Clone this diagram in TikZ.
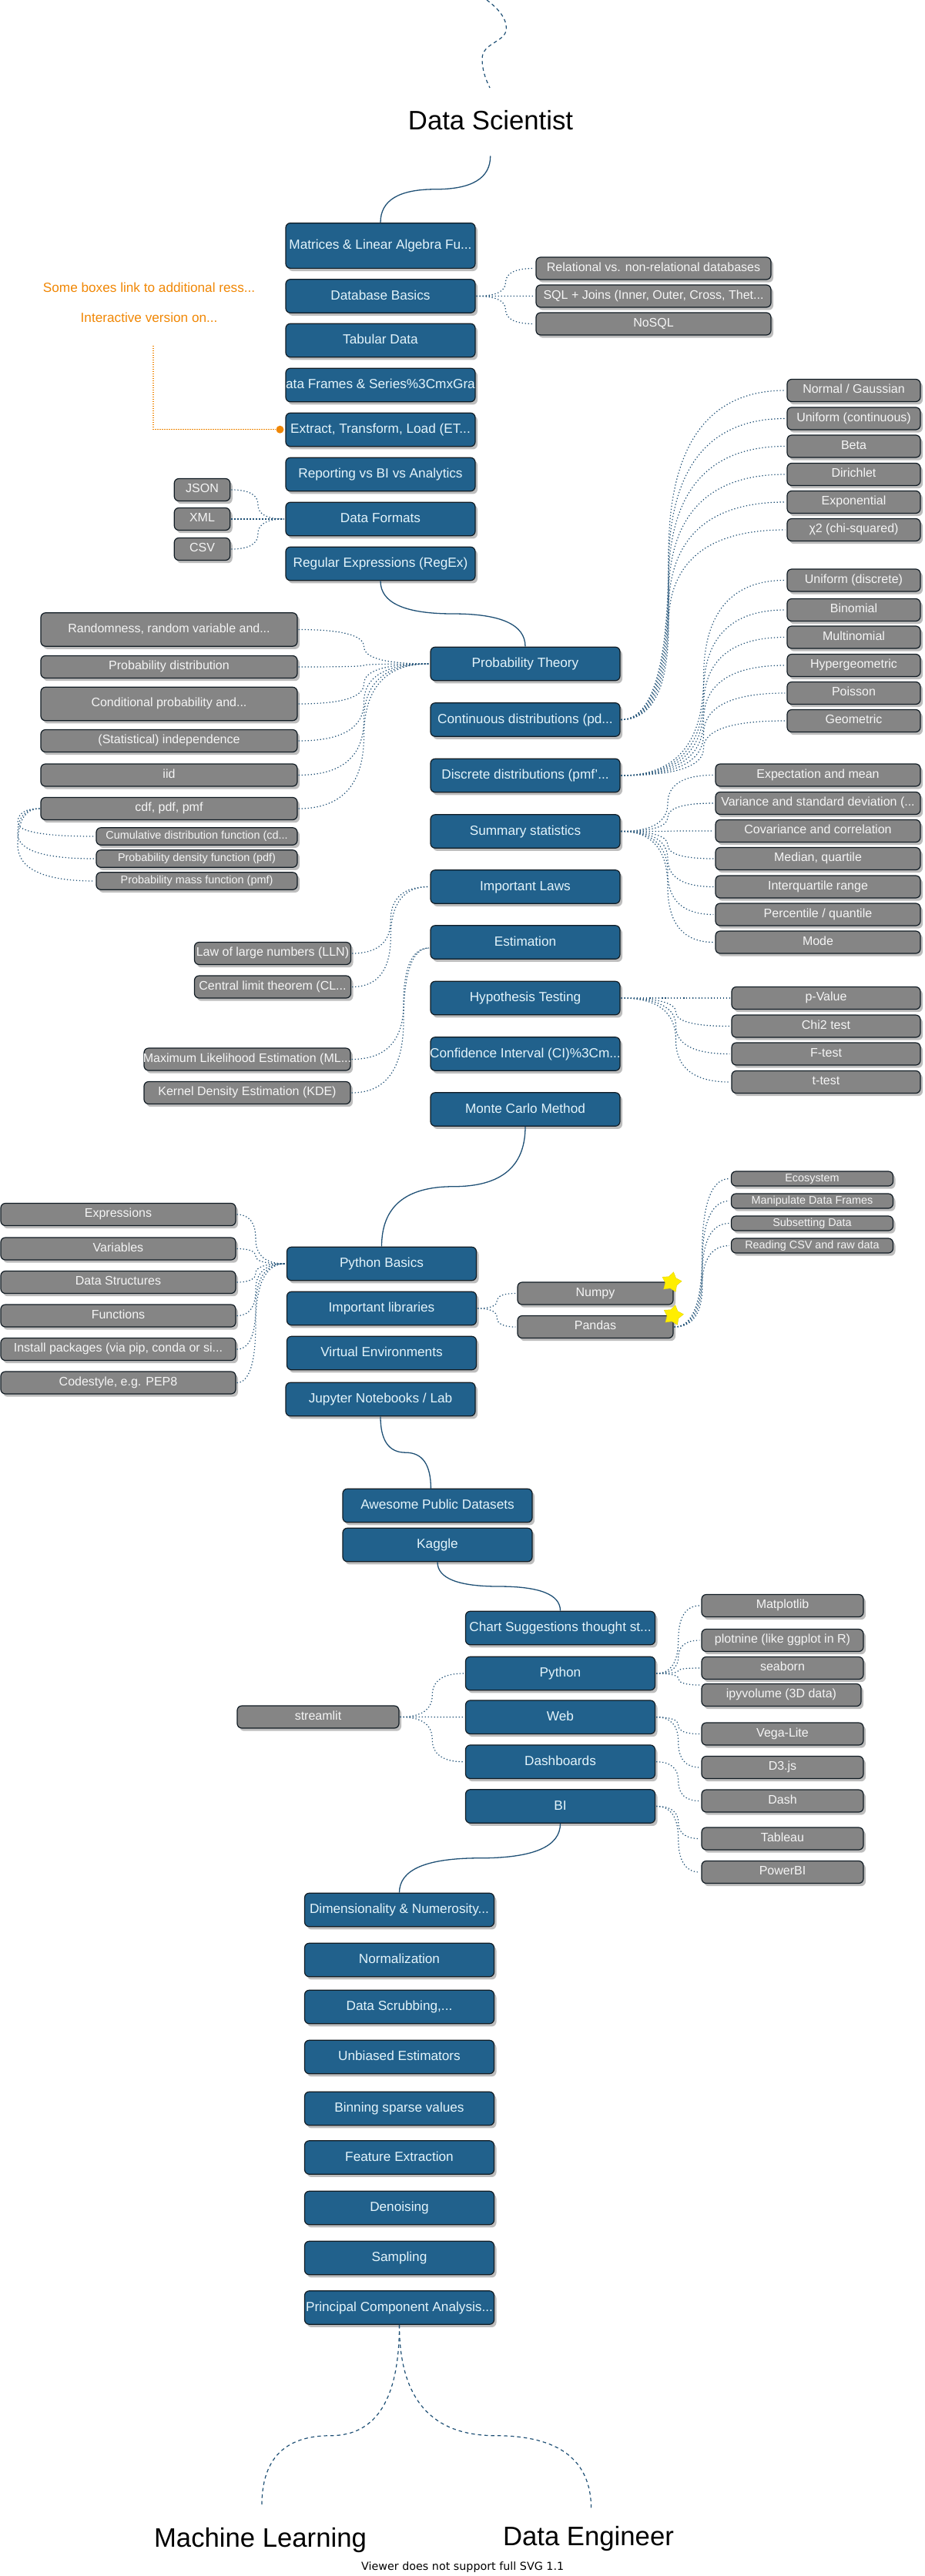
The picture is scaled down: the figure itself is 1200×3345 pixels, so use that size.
\documentclass[tikz,border=0pt]{standalone}
\usepackage{fontspec}
\usepackage{xcolor}
\usepackage{tikz}
\usetikzlibrary{calc}
\usetikzlibrary{shadows}
\usetikzlibrary{shapes.geometric}
\setmainfont{Liberation Sans}
\newfontfamily\viewerfont{DejaVu Sans}
\definecolor{boxblue}{HTML}{21618C}
\definecolor{boxgray}{HTML}{858585}
\definecolor{boxedge}{HTML}{111C24}
\definecolor{boxshade}{HTML}{BDBDBD}
\definecolor{bluetext}{HTML}{E3F4FB}
\definecolor{graytext}{HTML}{F5F5F5}
\definecolor{linkblue}{HTML}{1F5075}
\definecolor{noteorange}{HTML}{F08705}
\definecolor{staryellow}{HTML}{FFEE00}
\tikzset{
  basebox/.style={shape=rectangle,draw=boxedge,line width=1.2pt,rounded corners=6pt,inner sep=0pt,
    drop shadow={shadow xshift=3pt,shadow yshift=-3.7pt,fill=boxshade,opacity=1}},
  mainbox/.style={basebox,fill=boxblue,text=bluetext,minimum width=246pt,minimum height=43.5pt,
    text height=12.9pt,text depth=3.1pt,font=\fontsize{17.2}{20}\selectfont},
  graybox/.style={basebox,fill=boxgray,text=graytext,minimum width=#1,minimum height=29pt,
    text height=11pt,text depth=3.4pt,font=\fontsize{16}{19}\selectfont},
  smallbox/.style={basebox,fill=boxgray,text=graytext,minimum width=#1,minimum height=19pt,
    text height=10pt,text depth=3pt,font=\fontsize{14.4}{17}\selectfont},
  bigtitle/.style={shape=rectangle,inner sep=0pt,font=\fontsize{34.7}{40}\selectfont},
  notetext/.style={shape=rectangle,inner sep=0pt,text=noteorange,font=\fontsize{17.2}{20}\selectfont},
  starmark/.style={shape=star,star points=5,star point ratio=1.7,shape border rotate=-12,minimum size=27pt,
    inner sep=0pt,fill=staryellow,draw=staryellow!90!black,line width=.4pt},
  dotlink/.style={draw=linkblue,line width=1.2pt,dash pattern=on 1.3pt off 2.7pt,shorten >=2pt,shorten <=1pt},
  solidlink/.style={draw=linkblue,line width=1.3pt},
  dashlink/.style={draw=linkblue,line width=1.2pt,dash pattern=on 4.5pt off 4pt},
  notelink/.style={draw=noteorange,line width=1.3pt,dash pattern=on 1.3pt off 1.7pt},
  hcurve/.style={to path={let \p1=(\tikztostart),\p2=(\tikztotarget),\n1={#1},\n2={.5*(\y1+\y2)} in
    .. controls ($(\p1)!.667!(\n1,\y1)$) and ($(\n1,\n2)!.667!(\n1,\y1)$) .. (\n1,\n2)
    .. controls ($(\n1,\n2)!.667!(\n1,\y2)$) and ($(\p2)!.667!(\n1,\y2)$) .. (\p2)}},
  hcurve/.default={.5*(\x1+\x2)},
  vcurve/.style={to path={let \p1=(\tikztostart),\p2=(\tikztotarget),\n1={.5*(\x1+\x2)},\n2={#1} in
    .. controls ($(\p1)!.667!(\x1,\n2)$) and ($(\n1,\n2)!.667!(\x1,\n2)$) .. (\n1,\n2)
    .. controls ($(\n1,\n2)!.667!(\x2,\n2)$) and ($(\p2)!.667!(\x2,\n2)$) .. (\p2)}},
  vcurve/.default={.5*(\y1+\y2)}
}
\begin{document}
\begin{tikzpicture}[x=1pt,y=-1pt]
\useasboundingbox (0,0) rectangle (1200,3345);

\coordinate (topin) at (632,0);
\coordinate (topout) at (636,114);
\coordinate (dsout) at (636.7,202.5);
\coordinate (notestart) at (199,449);
\coordinate (estin) at (559,1231);
\coordinate (awesomein) at (559.4,1933);
\coordinate (ipyin) at (911.5,2188);
\coordinate (mlin) at (340,3253);
\coordinate (dein) at (767.6,3258);

\node[bigtitle] (ds) at (637,155.6) {Data Scientist};
\node[notetext] (noteres) at (193.6,373.5) {Some boxes link to additional ress...};
\node[notetext] (noteint) at (193.6,412) {Interactive version on...};

\node[mainbox,minimum height=58.7pt] (matrices) at (494,319) {Matrices \& Linear Algebra Fu...};
\node[mainbox] (db) at (494,384.5) {Database Basics};
\node[mainbox] (tabular) at (494,442) {Tabular Data};
\node[mainbox] (frames) at (494,500) {\makebox[0pt]{ata Frames \& Series\%3CmxGra}};
\node[mainbox] (etl) at (494,558) {Extract, Transform, Load (ET...};
\node[mainbox] (reporting) at (494,616) {Reporting vs BI vs Analytics};
\node[mainbox] (formats) at (494,674) {Data Formats};
\node[mainbox] (regex) at (494,732) {Regular Expressions (RegEx)};

\node[graybox=305pt] (relational) at (848.5,348.5) {Relational vs. non-relational databases};
\node[graybox=305pt] (sql) at (848.5,384.5) {SQL + Joins (Inner, Outer, Cross, Thet...};
\node[graybox=305pt] (nosql) at (848.5,420.5) {NoSQL};

\node[graybox=72.5pt] (json) at (262.5,636) {JSON};
\node[graybox=72.5pt] (xml) at (262.5,674) {XML};
\node[graybox=72.5pt] (csv) at (262.5,713) {CSV};

\node[shape=circle,fill=noteorange,minimum size=10pt,inner sep=0pt] (etldot) at (363.5,557.7) {};

\node[graybox=173pt] (normal) at (1108.5,507) {Normal / Gaussian};
\node[graybox=173pt] (uniformc) at (1108.5,543.5) {Uniform (continuous)};
\node[graybox=173pt] (beta) at (1108.5,579.5) {Beta};
\node[graybox=173pt] (dirichlet) at (1108.5,616) {Dirichlet};
\node[graybox=173pt] (exponential) at (1108.5,652) {Exponential};
\node[graybox=173pt] (chisq) at (1108.5,688) {χ2 (chi-squared)};

\node[graybox=173pt] (uniformd) at (1108.5,753.5) {Uniform (discrete)};
\node[graybox=173pt] (binomial) at (1108.5,792) {Binomial};
\node[graybox=173pt] (multinomial) at (1108.5,827.5) {Multinomial};
\node[graybox=173pt] (hyper) at (1108.5,864) {Hypergeometric};
\node[graybox=173pt] (poisson) at (1108.5,900) {Poisson};
\node[graybox=173pt] (geometric) at (1108.5,936) {Geometric};

\node[mainbox] (prob) at (682,862) {Probability Theory};
\node[mainbox] (cont) at (682,934.5) {Continuous distributions (pd...};
\node[mainbox] (disc) at (682,1007) {Discrete distributions (pmf'...};
\node[mainbox] (summary) at (682,1079.5) {Summary statistics};
\node[mainbox] (laws) at (682,1151.5) {Important Laws};
\node[mainbox] (estimation) at (682,1223.5) {Estimation};
\node[mainbox] (hypothesis) at (682,1296) {Hypothesis Testing};
\node[mainbox] (confidence) at (682,1368.5) {\makebox[0pt]{Confidence Interval (CI)\%3Cm...}};
\node[mainbox] (monte) at (682,1440.5) {Monte Carlo Method};

\node[graybox=333pt,minimum height=43.4pt] (random) at (219.5,817.5) {Randomness, random variable and...};
\node[graybox=333pt] (pdist) at (219.5,866) {Probability distribution};
\node[graybox=333pt,minimum height=43.4pt] (conditional) at (219.5,914) {Conditional probability and...};
\node[graybox=333pt] (independence) at (219.5,962) {(Statistical) independence};
\node[graybox=333pt] (iid) at (219.5,1006.5) {iid};
\node[graybox=333pt] (cdfgroup) at (219.5,1050) {cdf, pdf, pmf};

\node[smallbox=261pt,minimum height=22.5pt] (cdf) at (255.5,1086) {Cumulative distribution function (cd...};
\node[smallbox=261pt,minimum height=22.5pt] (pdf) at (255.5,1115) {Probability density function (pdf)};
\node[smallbox=261pt,minimum height=22.5pt] (pmf) at (255.5,1144) {Probability mass function (pmf)};

\node[graybox=203pt] (lln) at (354,1238) {Law of large numbers (LLN)};
\node[graybox=203pt] (clt) at (354,1281.5) {Central limit theorem (CL...};
\node[graybox=268pt] (mle) at (321,1375.5) {\makebox[0pt]{Maximum Likelihood Estimation (ML...}};
\node[graybox=268pt] (kde) at (321,1419) {Kernel Density Estimation (KDE)};

\node[graybox=266pt] (expectation) at (1062,1006.5) {Expectation and mean};
\node[graybox=266pt] (variance) at (1062,1043) {\makebox[0pt]{Variance and standard deviation (...}};
\node[graybox=266pt] (covariance) at (1062,1079) {Covariance and correlation};
\node[graybox=266pt] (median) at (1062,1115) {Median, quartile};
\node[graybox=266pt] (iqr) at (1062,1151.5) {Interquartile range};
\node[graybox=266pt] (percentile) at (1062,1187.5) {Percentile / quantile};
\node[graybox=266pt] (mode) at (1062,1223.5) {Mode};

\node[graybox=245pt] (pvalue) at (1072.5,1296) {p-Value};
\node[graybox=245pt] (chitest) at (1072.5,1332.5) {Chi2 test};
\node[graybox=245pt] (ftest) at (1072.5,1368.5) {F-test};
\node[graybox=245pt] (ttest) at (1072.5,1405) {t-test};

\node[mainbox] (basics) at (495.5,1641) {Python Basics};
\node[mainbox] (libraries) at (495.5,1699) {Important libraries};
\node[mainbox] (venv) at (495.5,1757) {Virtual Environments};
\node[mainbox] (jupyter) at (494,1817) {Jupyter Notebooks / Lab};

\node[graybox=305pt] (expressions) at (153.5,1577) {Expressions};
\node[graybox=305pt] (variables) at (153.5,1621.5) {Variables};
\node[graybox=305pt] (structures) at (153.5,1665) {Data Structures};
\node[graybox=305pt] (functions) at (153.5,1708.5) {Functions};
\node[graybox=305pt] (install) at (153.5,1752) {Install packages (via pip, conda or si...};
\node[graybox=305pt] (codestyle) at (153.5,1795.5) {Codestyle, e.g. PEP8};

\node[graybox=202pt] (numpy) at (773,1679.5) {Numpy};
\node[graybox=202pt] (pandas) at (773,1723) {Pandas};
\node[starmark] (numpystar) at (871.7,1665) {};
\node[starmark] (pandasstar) at (874,1708) {};

\node[smallbox=210pt] (ecosystem) at (1054.5,1530.5) {Ecosystem};
\node[smallbox=210pt] (manipulate) at (1054.5,1559.5) {Manipulate Data Frames};
\node[smallbox=210pt] (subsetting) at (1054.5,1588.5) {Subsetting Data};
\node[smallbox=210pt] (reading) at (1054.5,1617.5) {Reading CSV and raw data};

\node[mainbox] (awesome) at (568,1955) {Awesome Public Datasets};
\node[mainbox] (kaggle) at (568,2006) {Kaggle};

\node[mainbox] (chart) at (727.5,2114) {Chart Suggestions thought st...};
\node[mainbox] (python) at (727.5,2173) {Python};
\node[mainbox] (web) at (727.5,2229.7) {Web};
\node[mainbox] (dashboards) at (727.5,2287.7) {Dashboards};
\node[mainbox] (bi) at (727.5,2345.5) {BI};

\node[graybox=210pt] (streamlit) at (413,2229.5) {streamlit};
\node[graybox=210pt] (matplotlib) at (1016,2085) {Matplotlib};
\node[graybox=210pt] (plotnine) at (1016,2130) {plotnine (like ggplot in R)};
\node[graybox=210pt] (seaborn) at (1016,2166) {seaborn};
\node[graybox=207pt] (ipyvolume) at (1014.5,2201) {ipyvolume (3D data)};
\node[graybox=210pt] (vega) at (1016,2251.5) {Vega-Lite};
\node[graybox=210pt] (dthree) at (1016,2295) {D3.js};
\node[graybox=210pt] (dashplot) at (1016,2338.5) {Dash};
\node[graybox=210pt] (tableau) at (1016,2387.5) {Tableau};
\node[graybox=210pt] (powerbi) at (1016,2431) {PowerBI};

\node[mainbox] (dimension) at (518.5,2480) {Dimensionality \& Numerosity...};
\node[mainbox] (normalization) at (518.5,2545) {Normalization};
\node[mainbox] (scrubbing) at (518.5,2606) {Data Scrubbing,...};
\node[mainbox] (unbiased) at (518.5,2671) {Unbiased Estimators};
\node[mainbox] (binning) at (518.5,2738) {Binning sparse values};
\node[mainbox] (feature) at (518.5,2801.5) {Feature Extraction};
\node[mainbox] (denoising) at (518.5,2867) {Denoising};
\node[mainbox] (sampling) at (518.5,2932) {Sampling};
\node[mainbox] (pca) at (518.5,2996.5) {\makebox[0pt]{Principal Component Analysis...}};

\node[bigtitle] (ml) at (338,3298.5) {Machine Learning};
\node[bigtitle] (de) at (764,3296) {Data Engineer};
\node[shape=rectangle,inner sep=0pt,font=\viewerfont\fontsize{14.3}{17}\selectfont] (viewer) at (600.7,3333.5) {Viewer does not support full SVG 1.1};

\draw [dashlink] (topin) .. controls (648,12) and (657.4,24) .. (657.4,36.7) .. controls (657.4,55) and (626,55) .. (626,76.5) .. controls (626,90) and (630,102) .. (topout);
\draw [solidlink] (dsout) to[vcurve] (matrices.north);
\draw [solidlink] (regex.south) to[vcurve] (prob.north);
\draw [solidlink] (monte.south) to[vcurve] (basics.north);
\draw [solidlink] (jupyter.south) to[vcurve] (awesomein);
\draw [solidlink] (kaggle.south) to[vcurve] (chart.north);
\draw [solidlink] (bi.south) to[vcurve] (dimension.north);
\draw [dashlink] (pca.south) to[vcurve=-3162.7pt] (mlin);
\draw [dashlink] (pca.south) to[vcurve=-3162.7pt] (dein);
\draw [notelink] (notestart) |- (etldot.west);

\draw [dotlink] (db.east) to[hcurve] (relational.west);
\draw [dotlink] (db.east) to[hcurve] (sql.west);
\draw [dotlink] (db.east) to[hcurve] (nosql.west);
\draw [dotlink] (json.east) to[hcurve] (formats.west);
\draw [dotlink] (xml.east) to[hcurve] (formats.west);
\draw [dotlink] (csv.east) to[hcurve] (formats.west);

\draw [dotlink] (cont.east) to[hcurve=868pt] (normal.west);
\draw [dotlink] (cont.east) to[hcurve=868pt] (uniformc.west);
\draw [dotlink] (cont.east) to[hcurve=868pt] (beta.west);
\draw [dotlink] (cont.east) to[hcurve=868pt] (dirichlet.west);
\draw [dotlink] (cont.east) to[hcurve=868pt] (exponential.west);
\draw [dotlink] (cont.east) to[hcurve=868pt] (chisq.west);

\draw [dotlink] (disc.east) to[hcurve] (uniformd.west);
\draw [dotlink] (disc.east) to[hcurve] (binomial.west);
\draw [dotlink] (disc.east) to[hcurve] (multinomial.west);
\draw [dotlink] (disc.east) to[hcurve] (hyper.west);
\draw [dotlink] (disc.east) to[hcurve] (poisson.west);
\draw [dotlink] (disc.east) to[hcurve] (geometric.west);

\draw [dotlink] (summary.east) to[hcurve] (expectation.west);
\draw [dotlink] (summary.east) to[hcurve] (variance.west);
\draw [dotlink] (summary.east) to[hcurve] (covariance.west);
\draw [dotlink] (summary.east) to[hcurve] (median.west);
\draw [dotlink] (summary.east) to[hcurve] (iqr.west);
\draw [dotlink] (summary.east) to[hcurve] (percentile.west);
\draw [dotlink] (summary.east) to[hcurve] (mode.west);

\draw [dotlink] (random.east) to[hcurve] (prob.west);
\draw [dotlink] (pdist.east) to[hcurve] (prob.west);
\draw [dotlink] (conditional.east) to[hcurve] (prob.west);
\draw [dotlink] (independence.east) to[hcurve] (prob.west);
\draw [dotlink] (iid.east) to[hcurve] (prob.west);
\draw [dotlink] (cdfgroup.east) to[hcurve] (prob.west);

\draw [dotlink] (cdfgroup.west) to[hcurve=23pt] (cdf.west);
\draw [dotlink] (cdfgroup.west) to[hcurve=23pt] (pdf.west);
\draw [dotlink] (cdfgroup.west) to[hcurve=23pt] (pmf.west);

\draw [dotlink] (lln.east) to[hcurve] (laws.west);
\draw [dotlink] (clt.east) to[hcurve] (laws.west);
\draw [dotlink] (mle.east) to[hcurve=524pt] (estin);
\draw [dotlink] (kde.east) to[hcurve=524pt] (estin);

\draw [dotlink] (hypothesis.east) to[hcurve] (pvalue.west);
\draw [dotlink] (hypothesis.east) to[hcurve] (chitest.west);
\draw [dotlink] (hypothesis.east) to[hcurve] (ftest.west);
\draw [dotlink] (hypothesis.east) to[hcurve] (ttest.west);

\draw [dotlink] (expressions.east) to[hcurve=332pt] (basics.west);
\draw [dotlink] (variables.east) to[hcurve=332pt] (basics.west);
\draw [dotlink] (structures.east) to[hcurve=332pt] (basics.west);
\draw [dotlink] (functions.east) to[hcurve=332pt] (basics.west);
\draw [dotlink] (install.east) to[hcurve=332pt] (basics.west);
\draw [dotlink] (codestyle.east) to[hcurve=332pt] (basics.west);

\draw [dotlink] (libraries.east) to[hcurve] (numpy.west);
\draw [dotlink] (libraries.east) to[hcurve] (pandas.west);
\draw [dotlink] (pandas.east) to[hcurve] (ecosystem.west);
\draw [dotlink] (pandas.east) to[hcurve] (manipulate.west);
\draw [dotlink] (pandas.east) to[hcurve] (subsetting.west);
\draw [dotlink] (pandas.east) to[hcurve] (reading.west);

\draw [dotlink] (streamlit.east) to[hcurve] (python.west);
\draw [dotlink] (streamlit.east) to[hcurve] (web.west);
\draw [dotlink] (streamlit.east) to[hcurve] (dashboards.west);

\draw [dotlink] (python.east) to[hcurve] (matplotlib.west);
\draw [dotlink] (python.east) to[hcurve] (plotnine.west);
\draw [dotlink] (python.east) to[hcurve] (seaborn.west);
\draw [dotlink] (python.east) to[hcurve] (ipyin);
\draw [dotlink] (web.east) to[hcurve] (vega.west);
\draw [dotlink] (web.east) to[hcurve] (dthree.west);
\draw [dotlink] (dashboards.east) to[hcurve] (dashplot.west);
\draw [dotlink] (bi.east) to[hcurve] (tableau.west);
\draw [dotlink] (bi.east) to[hcurve] (powerbi.west);
\end{tikzpicture}
\end{document}
